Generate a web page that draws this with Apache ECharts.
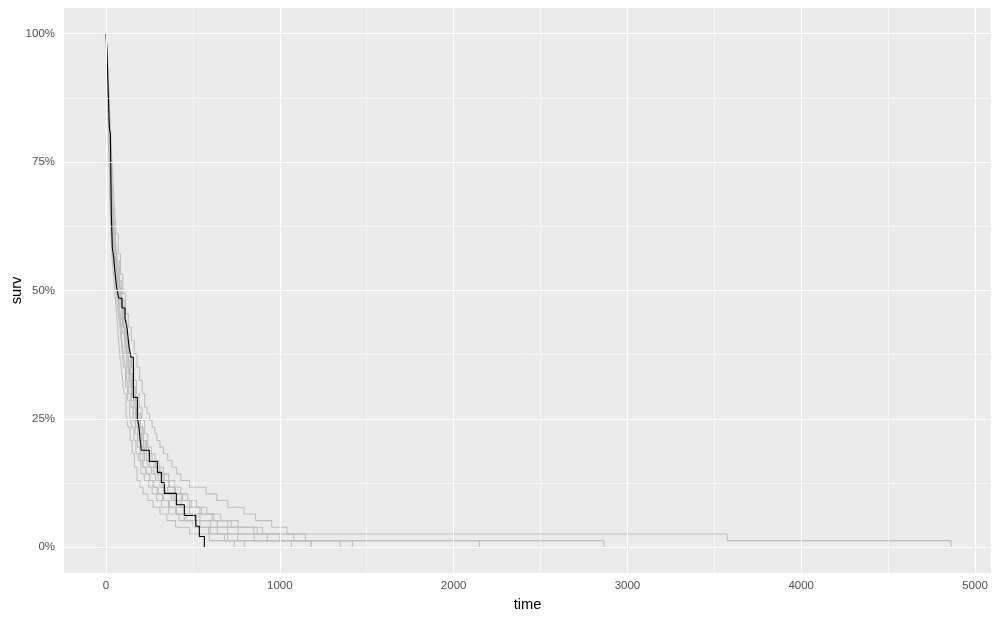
<!DOCTYPE html>
<html><head><meta charset="utf-8">
<script src="https://cdn.jsdelivr.net/npm/echarts@6/dist/echarts.min.js"></script>
<style>html,body{margin:0;padding:0;background:#fff}#chart{width:1000px;height:618px}</style>
</head><body><div id="chart"></div>
<script>
const xTicks = [0, 1000, 2000, 3000, 4000, 5000];
const xMinor = [500, 1500, 2500, 3500, 4500];
const yTicks = [0, 25, 50, 75, 100];
const yMinor = [12.5, 37.5, 62.5, 87.5];

// main Kaplan-Meier curve: [time, survival %]
const blackCurve = [[0,100],[5.8,96.3],[13.2,87.9],[19,81.7],[24.7,80.5],[30.5,64.7],[36.2,58.3],[44.3,56.3],[50.1,54.0],[57.5,51.6],[63.3,50.1],[73.1,48.5],[92.1,46.6],[109.3,44.6],[120.8,42.7],[132.3,39.0],[143.8,37.0],[157.1,29.2],[180.1,25.1],[189.9,23.2],[195.6,21.0],[203.1,18.9],[249.1,16.7],[295.2,14.6],[318.2,12.6],[335.4,10.5],[404.5,8.3],[450.5,6.2],[516.1,4.1],[536.8,2.1],[565.6,0]];

// resampled curves
const greyA = [[0,100],[4,94.8],[9,87.0],[15,77.9],[21,68.8],[28,61.0],[36,55.8],[45,51.9],[55,48.1],[63,44.2],[72,40.3],[82,36.4],[92,33.8],[103,29.9],[115,26.0],[126,23.4],[138,20.8],[150,18.2],[163,15.6],[178,13.0],[195,11.7],[213,10.4],[240,9.1],[270,7.8],[310,6.5],[350,5.2],[400,3.9],[480,2.6],[594,1.3],[738,0]];
const greyB = [[0,100],[5,93.5],[11,85.7],[17,76.6],[24,68.8],[31,62.3],[40,57.1],[50,53.2],[60,49.4],[70,45.5],[80,42.9],[90,39.0],[100,35.1],[112,31.2],[124,28.6],[136,26.0],[147,23.4],[160,20.8],[172,18.2],[185,16.9],[200,14.3],[220,13.0],[245,11.7],[265,10.4],[290,9.1],[320,7.8],[360,6.5],[420,5.2],[500,3.9],[590,2.6],[681,1.3],[796,0]];
const greyC = [[0,100],[6,94.8],[13,88.3],[20,80.5],[27,72.7],[34,66.2],[42,59.7],[52,55.8],[62,51.9],[74,48.1],[85,44.2],[96,41.6],[108,37.7],[120,33.8],[132,31.2],[145,28.6],[158,26.0],[170,23.4],[183,20.8],[197,18.2],[212,15.6],[230,14.3],[250,13.0],[270,11.7],[295,10.4],[325,9.1],[360,7.8],[400,6.5],[460,5.2],[540,3.9],[640,2.6],[758,1.3],[1066,0]];
const greyD = [[0,100],[5,96.1],[12,89.6],[19,81.8],[26,74.0],[33,67.5],[41,62.3],[50,58.4],[60,54.5],[70,50.6],[82,46.8],[95,42.9],[108,39.0],[121,35.1],[134,32.5],[147,29.9],[160,27.3],[174,24.7],[190,22.1],[206,19.5],[222,16.9],[240,15.6],[262,14.3],[285,13.0],[310,11.7],[340,10.4],[375,9.1],[410,7.8],[450,6.5],[510,5.2],[600,3.9],[700,2.6],[853,1.3],[1181,0]];
const greyE = [[0,100],[7,93.5],[14,87.0],[21,79.2],[29,71.4],[37,64.9],[46,59.7],[56,55.8],[68,51.9],[80,48.1],[92,44.2],[104,41.6],[117,37.7],[130,33.8],[143,31.2],[156,28.6],[170,26.0],[184,23.4],[200,20.8],[216,18.2],[234,16.9],[252,15.6],[275,14.3],[300,13.0],[325,11.7],[355,10.4],[390,9.1],[430,7.8],[480,6.5],[540,5.2],[640,3.9],[760,2.6],[928,1.3],[1348,0]];
const greyF = [[0,100],[6,94.8],[13,88.3],[20,81.8],[28,75.3],[36,68.8],[45,63.6],[55,58.4],[66,54.5],[78,50.6],[90,46.8],[103,42.9],[116,39.0],[129,36.4],[142,33.8],[156,31.2],[170,28.6],[184,26.0],[198,23.4],[214,20.8],[232,18.2],[252,16.9],[275,15.6],[300,14.3],[328,13.0],[360,11.7],[395,10.4],[435,9.1],[480,7.8],[540,6.5],[610,5.2],[700,3.9],[850,2.6],[1080,1.3],[1417,0]];
const greyG = [[0,100],[8,93.5],[15,85.7],[23,77.9],[31,70.1],[40,63.6],[50,58.4],[61,54.5],[73,50.6],[86,46.8],[99,42.9],[112,40.3],[125,37.7],[139,33.8],[153,31.2],[167,28.6],[182,26.0],[197,23.4],[212,20.8],[228,19.5],[245,18.2],[265,16.9],[285,15.6],[310,14.3],[335,13.0],[365,11.7],[400,10.4],[440,9.1],[490,7.8],[550,6.5],[620,5.2],[720,3.9],[900,2.6],[1147,1.3],[2148,0]];
const greyH = [[0,100],[6,96.1],[12,90.9],[19,83.1],[27,75.3],[35,68.8],[44,63.6],[54,59.7],[65,55.8],[77,51.9],[90,48.1],[104,44.2],[118,40.3],[132,37.7],[146,35.1],[160,32.5],[175,29.9],[190,27.3],[206,24.7],[222,22.1],[240,19.5],[260,18.2],[282,16.9],[305,15.6],[330,14.3],[360,13.0],[395,11.7],[430,10.4],[470,9.1],[520,7.8],[580,6.5],[660,5.2],[760,3.9],[870,2.6],[1000,1.3],[2865,0]];
const greyI = [[0,100],[7,96.1],[14,90.9],[22,84.4],[30,77.9],[39,71.4],[48,66.2],[58,61.0],[70,57.1],[83,53.2],[97,49.4],[112,45.5],[128,42.9],[145,40.3],[162,37.7],[178,35.1],[193,32.5],[208,29.9],[222,27.3],[236,26.0],[250,24.7],[265,23.4],[280,22.1],[292,20.8],[310,19.5],[330,18.2],[355,16.9],[380,15.6],[405,14.3],[430,13.0],[480,11.7],[575,10.4],[637,9.1],[700,7.8],[794,6.5],[860,5.2],[953,3.9],[1041,2.6],[3574,1.3],[4862,0]];
const greyJ = [[0,100],[5,94.8],[11,88.3],[18,80.5],[25,72.7],[32,66.2],[40,61.0],[49,57.1],[58,53.2],[67,49.4],[77,45.5],[88,41.6],[99,37.7],[110,35.1],[121,32.5],[132,29.9],[144,27.3],[156,24.7],[168,22.1],[180,19.5],[195,16.9],[212,15.6],[230,14.3],[252,13.0],[275,11.7],[300,10.4],[330,9.1],[365,7.8],[405,6.5],[450,5.2],[520,3.9],[600,2.6],[700,1.3],[1181,0]];

const greyCurves = [greyA, greyB, greyC, greyD, greyE, greyF, greyG, greyH, greyI, greyJ];

const chart = echarts.init(document.getElementById('chart'), null, {renderer: 'canvas'});
const FONT = "'Liberation Sans', Arial, sans-serif";

const gridLines = [].concat(
  xMinor.map(v => ({xAxis: v, lineStyle: {width: 0.55}})),
  yMinor.map(v => ({yAxis: v, lineStyle: {width: 0.55}})),
  xTicks.map(v => ({xAxis: v, lineStyle: {width: 1.1}})),
  yTicks.map(v => ({yAxis: v, lineStyle: {width: 1.1}}))
);

const series = [{
  type: 'line', data: [], silent: true, z: 1,
  markLine: {
    silent: true, symbol: ['none', 'none'], animation: false,
    label: {show: false},
    lineStyle: {color: '#FFFFFF', type: 'solid', width: 1.1},
    emphasis: {disabled: true},
    data: gridLines
  }
}];
greyCurves.forEach(c => series.push({
  type: 'line', step: 'end', data: c, showSymbol: false, z: 2,
  lineStyle: {color: '#BEBEBE', width: 1.07}, silent: true
}));
series.push({
  type: 'line', step: 'end', data: blackCurve, showSymbol: false, z: 3,
  lineStyle: {color: '#000000', width: 1.1}, silent: true
});

chart.setOption({
  animation: false,
  backgroundColor: '#FFFFFF',
  grid: {left: 64, right: 9, top: 8, bottom: 45, show: true, backgroundColor: '#EBEBEB', borderWidth: 0,
         containLabel: false, outerBoundsMode: 'none'},
  xAxis: {
    type: 'value', min: -242, max: 5092,
    name: 'time', nameLocation: 'middle', nameGap: 24, nameMoveOverlap: false,
    nameTextStyle: {color: '#000', fontSize: 14.7, fontFamily: FONT},
    axisLine: {show: false},
    axisTick: {show: true, length: 4, lineStyle: {color: '#333333', width: 1.07}, customValues: xTicks},
    axisLabel: {color: '#4D4D4D', fontSize: 11.5, fontFamily: FONT, margin: 7, customValues: xTicks,
                formatter: v => String(v)},
    splitLine: {show: false}
  },
  yAxis: {
    type: 'value', min: -5, max: 105,
    name: 'surv', nameLocation: 'middle', nameGap: 40, nameRotate: 90, nameMoveOverlap: false,
    nameTextStyle: {color: '#000', fontSize: 14.7, fontFamily: FONT},
    axisLine: {show: false},
    axisTick: {show: true, length: 4, lineStyle: {color: '#333333', width: 1.07}, customValues: yTicks},
    axisLabel: {color: '#4D4D4D', fontSize: 11.5, fontFamily: FONT, margin: 9, customValues: yTicks,
                formatter: v => v + '%'},
    splitLine: {show: false}
  },
  series: series
});
</script></body></html>
